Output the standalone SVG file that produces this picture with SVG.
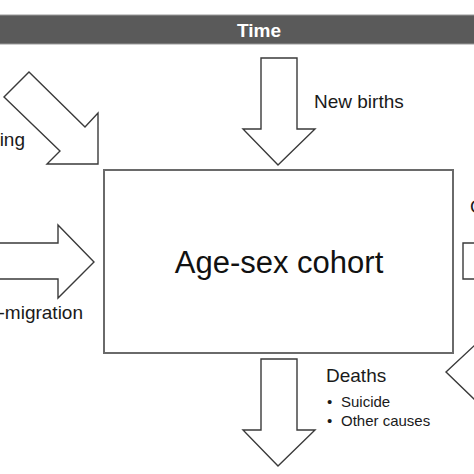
<svg xmlns="http://www.w3.org/2000/svg" width="474" height="474" viewBox="0 0 474 474">
<style>
.arrow{fill:#fff;stroke:#3a3a3a;stroke-width:1.4;stroke-linejoin:miter}
.lbl{font-family:"Liberation Sans",Arial,sans-serif;font-size:19px;fill:#1a1a1a}
.small{font-family:"Liberation Sans",Arial,sans-serif;font-size:15px;fill:#1a1a1a}
</style>
<rect x="0" y="0" width="474" height="474" fill="#fff"/>
<g id="time-bar">
<rect x="-2" y="15" width="478" height="29" fill="#5a5a5a" stroke="#9a9a9a" stroke-width="1"/>
<text x="259" y="37" text-anchor="middle" font-family="Liberation Sans,Arial,sans-serif" font-size="19" font-weight="bold" fill="#fff">Time</text>
</g>
<g id="connectors">
<path id="ageing-arrow" class="arrow" d="M29,72 L85,127 L98,113 L98,164 L47,164 L60,151 L4,97 Z"/>
<path id="inmigration-arrow" class="arrow" d="M-5,243 L58,243 L58,225 L94,262 L58,298 L58,279 L-5,279"/>
<path id="births-arrow" class="arrow" d="M261,58 L297,58 L297,129 L315,129 L278,165 L243,129 L261,129 Z"/>
<path id="deaths-arrow" class="arrow" d="M261,359 L297,359 L297,430 L315,430 L278,466 L243,430 L261,430 Z"/>
<path id="outmigration-arrow" class="arrow" d="M480,243 L463,243 L463,279 L480,279"/>
<path id="lower-right-arrow" class="arrow" d="M476,344 L446,372 L476,401"/>
</g>
<g id="cohort">
<rect x="104" y="170" width="349" height="183" fill="#fff" stroke="#6a6a6a" stroke-width="2"/>
<text x="279" y="273" text-anchor="middle" font-family="Liberation Sans,Arial,sans-serif" font-size="31" fill="#111">Age-sex cohort</text>
</g>
<g id="labels">
<text class="lbl" x="25" y="146" text-anchor="end">ing</text>
<text class="lbl" x="83" y="319" text-anchor="end">-migration</text>
<text class="lbl" x="314" y="108">New births</text>
<text class="lbl" x="326" y="382">Deaths</text>
<text class="small" x="327" y="407">•</text>
<text class="small" x="341" y="407">Suicide</text>
<text class="small" x="327" y="426">•</text>
<text class="small" x="341" y="426">Other causes</text>
<text class="lbl" x="470" y="213">O</text>
</g>
</svg>
